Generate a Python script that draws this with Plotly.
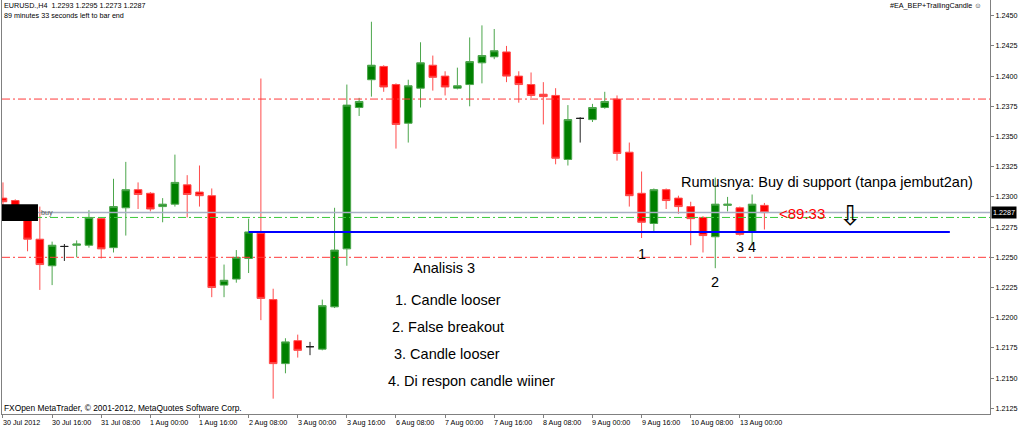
import plotly.graph_objects as go

# ---------------- data ----------------
bar_index = list(range(63))
opens = [1.2299, 1.2297, 1.2286, 1.2265, 1.2243, 1.2259, 1.2260, 1.2260, 1.2282, 1.2258,
         1.2291, 1.2306, 1.2303, 1.2292, 1.2294, 1.2310, 1.2304, 1.2301, 1.2227, 1.2232,
         1.2249, 1.2270, 1.2215, 1.2162, 1.2181, 1.2176, 1.2174, 1.2209, 1.2257, 1.2374,
         1.2397, 1.2408, 1.2393, 1.2361, 1.2390, 1.2409, 1.2400, 1.2390, 1.2393, 1.2411,
         1.2416, 1.2420, 1.2400, 1.2393, 1.2385, 1.2384, 1.2331, 1.2365, 1.2364, 1.2374,
         1.2381, 1.2337, 1.2303, 1.2278, 1.2306, 1.2299, 1.2292, 1.2283, 1.2267, 1.2293,
         1.2291, 1.2271, 1.2293]
highs = [1.2312, 1.2298, 1.2289, 1.2292, 1.2263, 1.2261, 1.2264, 1.2289, 1.2283, 1.2315,
         1.2329, 1.2312, 1.2304, 1.2299, 1.2335, 1.2318, 1.2326, 1.2307, 1.2244, 1.2256,
         1.2282, 1.2398, 1.2224, 1.2183, 1.2186, 1.2180, 1.2215, 1.2291, 1.2393, 1.2382,
         1.2445, 1.2409, 1.2394, 1.2397, 1.2428, 1.2417, 1.2404, 1.2407, 1.2432, 1.2442,
         1.2439, 1.2425, 1.2404, 1.2403, 1.2395, 1.2390, 1.2376, 1.2366, 1.2377, 1.2387,
         1.2384, 1.2345, 1.2321, 1.2307, 1.2307, 1.2301, 1.2296, 1.2284, 1.2316, 1.2300,
         1.2292, 1.2302, 1.2295]
lows = [1.2291, 1.2284, 1.2255, 1.2223, 1.2227, 1.2247, 1.2250, 1.2258, 1.2249, 1.2254,
        1.2268, 1.2290, 1.2288, 1.2279, 1.2292, 1.2283, 1.2292, 1.2217, 1.2217, 1.2229,
        1.2237, 1.2198, 1.2133, 1.2154, 1.2167, 1.2169, 1.2173, 1.2208, 1.2243, 1.2367,
        1.2383, 1.2387, 1.2340, 1.2345, 1.2374, 1.2388, 1.2384, 1.2389, 1.2375, 1.2394,
        1.2414, 1.2395, 1.2378, 1.2382, 1.2360, 1.2327, 1.2326, 1.2345, 1.2362, 1.2373,
        1.2330, 1.2292, 1.2266, 1.2271, 1.2290, 1.2286, 1.2260, 1.2254, 1.2241, 1.2288,
        1.2268, 1.2260, 1.2273]
closes = [1.2296, 1.2288, 1.2265, 1.2244, 1.2260, 1.2259, 1.2261, 1.2283, 1.2257, 1.2292,
          1.2306, 1.2302, 1.2290, 1.2294, 1.2312, 1.2302, 1.2301, 1.2225, 1.2231, 1.2250,
          1.2271, 1.2216, 1.2162, 1.2180, 1.2173, 1.2176, 1.2210, 1.2256, 1.2376, 1.2379,
          1.2409, 1.2391, 1.2360, 1.2392, 1.2411, 1.2399, 1.2391, 1.2392, 1.2412, 1.2417,
          1.2421, 1.2400, 1.2393, 1.2384, 1.2383, 1.2332, 1.2364, 1.2365, 1.2374, 1.2379,
          1.2336, 1.2301, 1.2279, 1.2306, 1.2297, 1.2292, 1.2282, 1.2268, 1.2294, 1.2294,
          1.2269, 1.2294, 1.2287]

time_tick_bars = [0, 4, 8, 12, 16, 20, 24, 28, 32, 36, 40, 44, 48, 52, 56, 60]
time_tick_labels = ["30 Jul 2012", "30 Jul 16:00", "31 Jul 08:00", "1 Aug 00:00",
                    "1 Aug 16:00", "2 Aug 08:00", "3 Aug 00:00", "3 Aug 16:00",
                    "6 Aug 08:00", "7 Aug 00:00", "7 Aug 16:00", "8 Aug 08:00",
                    "9 Aug 00:00", "9 Aug 16:00", "10 Aug 08:00", "13 Aug 00:00"]
price_ticks = [1.2125, 1.2150, 1.2175, 1.2200, 1.2225, 1.2250, 1.2275, 1.2300,
               1.2325, 1.2350, 1.2375, 1.2400, 1.2425, 1.2450]
price_tick_labels = ["%.4f" % p for p in price_ticks]

bid_price = 1.2287
buy_price = 1.2283
resistance_price = 1.2381
support_price = 1.2250
blue_level = 1.2271
blue_start_bar = 20
blue_end_bar = 77.1
box_x = [-0.08, 2.85]
box_y = [1.2280, 1.2294]

header1 = "EURUSD.,H4\u00a0\u00a01.2293 1.2295 1.2273 1.2287"
header2 = "89 minutes 33 seconds left to bar end"
ea_name = "#EA_BEP+TrailingCandle \u263a"
copyright_text = "FXOpen MetaTrader, \u00a9 2001-2012, MetaQuotes Software Corp."
rule_text = "Rumusnya: Buy di support (tanpa jembut2an)"
analysis_title = "Analisis 3"
analysis_lines = ["1. Candle looser", "2. False breakout", "3. Candle looser",
                  "4. Di respon candle wiiner"]
timer_text = "<89:33"

# ---------------- figure ----------------
FONT = "Liberation Sans, Arial, DejaVu Sans, sans-serif"
normal = [i for i in bar_index if opens[i] != closes[i]]
doji = [i for i in bar_index if opens[i] == closes[i]]

fig = go.Figure()
fig.add_trace(go.Candlestick(
    x=[bar_index[i] for i in normal],
    open=[opens[i] for i in normal], high=[highs[i] for i in normal],
    low=[lows[i] for i in normal], close=[closes[i] for i in normal],
    increasing=dict(line=dict(color="#4ca64c", width=1), fillcolor="#008000"),
    decreasing=dict(line=dict(color="#ff4c4c", width=1), fillcolor="#ff0000"),
    whiskerwidth=0, hoverinfo="skip"))
fig.add_trace(go.Candlestick(
    x=[bar_index[i] for i in doji],
    open=[opens[i] for i in doji], high=[highs[i] for i in doji],
    low=[lows[i] for i in doji], close=[closes[i] for i in doji],
    increasing=dict(line=dict(color="#202020", width=1), fillcolor="#202020"),
    decreasing=dict(line=dict(color="#202020", width=1), fillcolor="#202020"),
    whiskerwidth=0, hoverinfo="skip"))

dashdot = "8px,3px,2px,3px"
shapes = [
    dict(type="line", xref="paper", x0=0, x1=1, yref="y", y0=resistance_price, y1=resistance_price,
         line=dict(color="#ff3a3a", width=1, dash=dashdot)),
    dict(type="line", xref="paper", x0=0, x1=1, yref="y", y0=support_price, y1=support_price,
         line=dict(color="#ff3a3a", width=1, dash=dashdot)),
    dict(type="line", xref="paper", x0=0, x1=1, yref="y", y0=bid_price, y1=bid_price,
         line=dict(color="#a8b0c4", width=1.5)),
    dict(type="line", xref="paper", x0=0, x1=1, yref="y", y0=buy_price, y1=buy_price,
         line=dict(color="#3cc83c", width=1, dash=dashdot)),
    dict(type="line", xref="x", x0=blue_start_bar, x1=blue_end_bar, yref="y",
         y0=blue_level, y1=blue_level, line=dict(color="#0000ff", width=2)),
    dict(type="rect", xref="x", x0=box_x[0], x1=box_x[1], yref="y", y0=box_y[0], y1=box_y[1],
         fillcolor="black", line=dict(width=0), layer="above"),
]

PH = 414.0  # plot height in px
def py(p):
    return 1 - p / PH

small = dict(family=FONT, size=7.2, color="black")
big = dict(family=FONT, size=14.5, color="black")
ann = [
    dict(text=header1, xref="paper", yref="paper", x=0, y=py(5), xanchor="left", yanchor="middle",
         xshift=0, showarrow=False, font=small),
    dict(text=header2, xref="paper", yref="paper", x=0, y=py(15), xanchor="left", yanchor="middle",
         xshift=0, showarrow=False, font=small),
    dict(text=ea_name, xref="paper", yref="paper", x=1, y=py(5), xanchor="right", yanchor="middle",
         xshift=-6, showarrow=False, font=small),
    dict(text=copyright_text, xref="paper", yref="paper", x=0, y=py(408), xanchor="left",
         yanchor="middle", showarrow=False, font=dict(family=FONT, size=8.4, color="black")),
    dict(text="buy", xref="x", yref="y", x=2.95, y=bid_price - 0.00002, xanchor="left",
         yanchor="middle", showarrow=False, font=dict(family=FONT, size=7.2, color="#555555")),
    dict(text="%.4f" % bid_price, xref="paper", yref="y", x=1, y=bid_price, xanchor="left",
         yanchor="middle", xshift=1, showarrow=False, bgcolor="black",
         font=dict(family=FONT, size=7.2, color="white")),
    dict(text=rule_text, xref="x", yref="y", x=67.1, y=1.2312, xanchor="center", yanchor="middle",
         showarrow=False, font=big),
    dict(text=timer_text, xref="x", yref="y", x=63.0, y=1.2286, xanchor="left", yanchor="middle",
         showarrow=False, font=dict(family=FONT, size=15, color="#ff0000")),
    dict(text="\u21e9", xref="x", yref="y", x=68.97, y=1.2285, xanchor="center", yanchor="middle",
         showarrow=False, font=dict(family="DejaVu Sans", size=27, color="black")),
    dict(text="1", xref="x", yref="y", x=52, y=1.2253, xanchor="center", yanchor="middle",
         showarrow=False, font=big),
    dict(text="2", xref="x", yref="y", x=58, y=1.22295, xanchor="center", yanchor="middle",
         showarrow=False, font=big),
    dict(text="3 4", xref="x", yref="y", x=60.5, y=1.22585, xanchor="center", yanchor="middle",
         showarrow=False, font=big),
    dict(text=analysis_title, xref="x", yref="y", x=35.95, y=1.22411, xanchor="center",
         yanchor="middle", showarrow=False, font=big),
]
line_pos = [(31.76, 1.22146), (31.5, 1.21922), (31.7, 1.21699), (31.2, 1.21475)]
for txt, (lx, ly) in zip(analysis_lines, line_pos):
    ann.append(dict(text=txt, xref="x", yref="y", x=lx, y=ly, xanchor="left", yanchor="middle",
                    showarrow=False, font=big))
for b, lab in zip(time_tick_bars, time_tick_labels):
    ann.append(dict(text=lab, xref="x", yref="paper", x=b, y=0, xanchor="left", yanchor="top",
                    yshift=-2, xshift=-2, showarrow=False, font=small))

fig.update_layout(
    width=1024, height=428,
    margin=dict(l=2, r=34, t=0, b=14),
    paper_bgcolor="white", plot_bgcolor="white",
    showlegend=False, boxgap=0.38, boxgroupgap=0,
    shapes=shapes, annotations=ann,
    xaxis=dict(range=[-0.08, 80.37], rangeslider=dict(visible=False), showgrid=False,
               zeroline=False, showline=True, linecolor="#808080", linewidth=1,
               ticks="outside", ticklen=3, tickcolor="#808080", tickvals=time_tick_bars,
               showticklabels=False),
    yaxis=dict(side="right", range=[1.21203, 1.24630], showgrid=False, zeroline=False,
               showline=True, mirror=True, linecolor="#808080", linewidth=1,
               ticks="outside", ticklen=3, tickcolor="#808080",
               tickvals=price_ticks, ticktext=price_tick_labels, tickfont=small),
)

fig.write_html("out.html", post_script="document.body.style.margin='0px';",
               config={"displayModeBar": False})
